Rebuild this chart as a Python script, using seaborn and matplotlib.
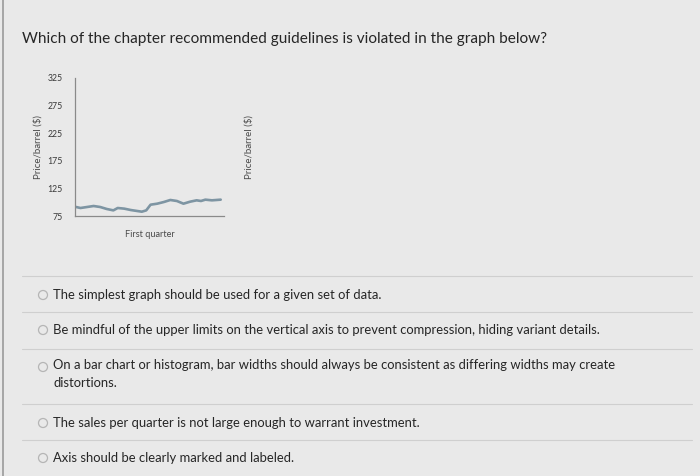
import numpy as np
import pandas as pd
import matplotlib
matplotlib.use("Agg")
import matplotlib.pyplot as plt
from matplotlib.patches import Circle
import seaborn as sns

# --- data ---
days = [0, 2, 5, 8, 11, 14, 17, 19, 22, 25, 28, 30, 32,
        34, 37, 40, 43, 46, 49, 52, 55, 57, 59, 62, 66]
price = [91.3, 89.5, 91.3, 93.1, 91.3, 87.7, 85.2, 89.5, 88.3, 85.8, 84.0, 82.8, 85.2,
         95.5, 97.3, 100.3, 104.0, 102.2, 97.3, 100.9, 103.4, 102.2, 104.6, 103.4, 104.6]
y_ticks = [75, 125, 175, 225, 275, 325]
x_ticks = [0, 30, 60]

question = "Which of the chapter recommended guidelines is violated in the graph below?"
options = [
    "The simplest graph should be used for a given set of data.",
    "Be mindful of the upper limits on the vertical axis to prevent compression, hiding variant details.",
    "On a bar chart or histogram, bar widths should always be consistent as differing widths may create\ndistortions.",
    "The sales per quarter is not large enough to warrant investment.",
    "Axis should be clearly marked and labeled.",
]

df = pd.DataFrame({"day": days, "price": price})

sns.set_style("white")
plt.rcParams['font.family'] = ['Lato', 'DejaVu Sans']

BG = '#e9e9e9'
W, H = 700, 476
fig = plt.figure(figsize=(W / 100, H / 100), dpi=100, facecolor=BG)

# page layer in pixel coordinates
page = fig.add_axes([0, 0, 1, 1], zorder=0)
page.set_xlim(0, W)
page.set_ylim(H, 0)
page.axis('off')
page.axvline(3, color='#9a9a9a', lw=1.2)

page.text(22, 39, question, fontsize=11.1, color='#262626', va='center', ha='left')

sep_y = [276, 312, 349, 404, 440]
opt_y = [295, 330, 367, 423, 458]
for sy in sep_y:
    page.plot([22, 692], [sy, sy], color='#cfcfcf', lw=0.8)
for oy, txt in zip(opt_y, options):
    page.add_patch(Circle((43, oy), 4.5, facecolor='none', edgecolor='#b5b5b5', lw=0.9))
    multi = '\n' in txt
    page.text(53, oy - 8 if multi else oy, txt, fontsize=9.35, color='#262626',
              va='top' if multi else 'center', ha='left', linespacing=1.6)

# --- the small chart ---
ax = fig.add_axes([75 / W, 1 - 216 / H, 149 / W, 138 / H], zorder=1)
ax.set_facecolor('none')
sns.lineplot(data=df, x='day', y='price', ax=ax, color='#7e95a3', lw=1.9)
ax.set_ylim(75, 325)
ax.set_xlim(-0.5, 67.5)
ax.set_yticks(y_ticks)
ax.set_xticks(x_ticks)
ax.set_xticklabels([])
ax.tick_params(axis='y', labelsize=6.3, length=2, width=0.6, colors='#8a8a8a',
               labelcolor='#3a3a3a', pad=7)
ax.tick_params(axis='x', length=1.5, width=0.6, colors='#9a9a9a')
for side in ['top', 'right']:
    ax.spines[side].set_visible(False)
for side in ['left', 'bottom']:
    ax.spines[side].set_color('#8a8a8a')
    ax.spines[side].set_linewidth(0.9)
ax.set_xlabel('First quarter', fontsize=6.6, color='#4a4a4a', labelpad=5)
ax.set_ylabel('Price/barrel ($)', fontsize=7, color='#4a4a4a', labelpad=3)
ax.text(1.17, 0.5, 'Price/barrel ($)', transform=ax.transAxes, rotation=90,
        fontsize=7, color='#4a4a4a', ha='center', va='center')

fig.savefig('out.png', dpi=100, facecolor=BG)
